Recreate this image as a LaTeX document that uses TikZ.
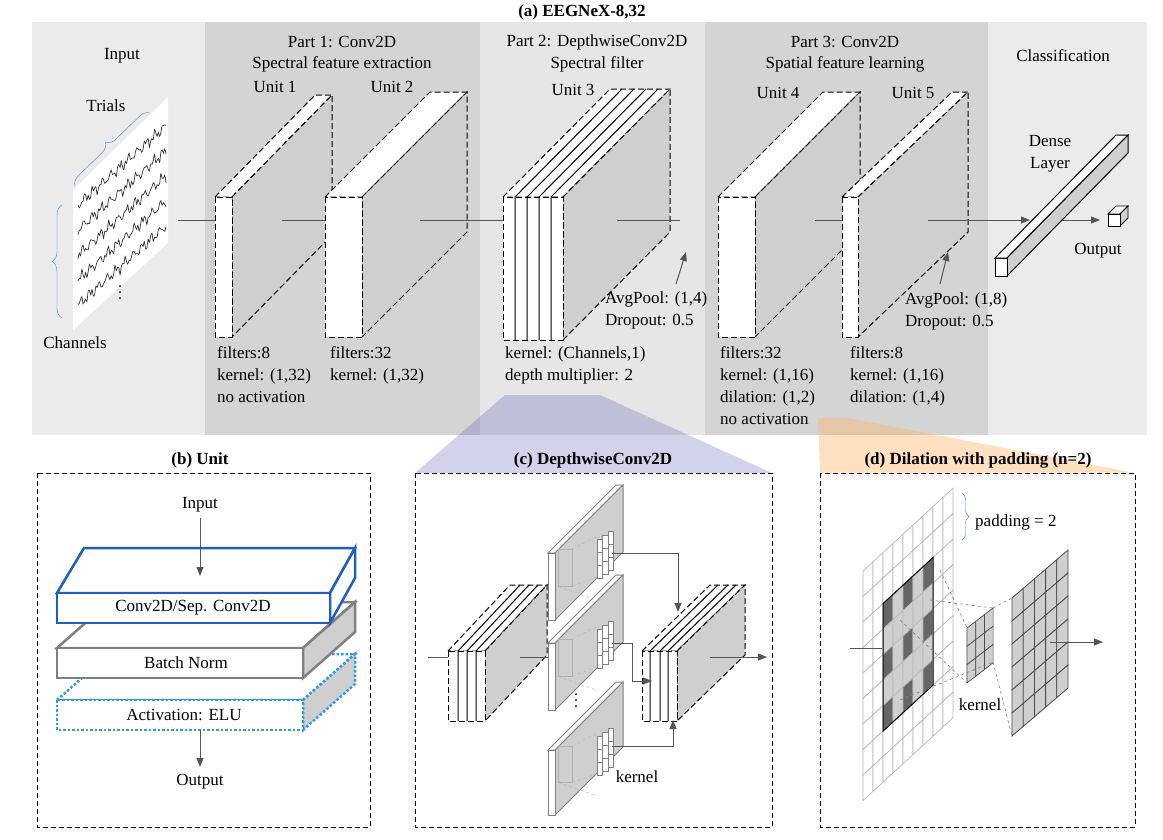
\documentclass[tikz,border=0pt]{standalone}
\usepackage{fontspec}
\setmainfont{Liberation Serif}
\usetikzlibrary{arrows.meta,decorations.pathreplacing}
\definecolor{pA}{HTML}{EBEBEB}
\definecolor{pB}{HTML}{D4D4D4}
\definecolor{pC}{HTML}{E6E6E6}
\definecolor{sideg}{HTML}{CFCFCF}
\definecolor{lnk}{HTML}{555555}
\definecolor{ublue}{HTML}{1F5FBF}
\definecolor{dblue}{HTML}{3399DD}
\newcommand{\cuboid}[7][]{%
 \filldraw[#1,fill=white] (#2,#3) -- ++(#6,-#7) -- ++(#4,0) -- ++(-#6,#7) -- cycle;
 \filldraw[#1,fill=sideg] ({#2+#4},#3) -- ++(#6,-#7) -- ++(0,#5) -- ++(-#6,#7) -- cycle;
 \filldraw[#1,fill=white] (#2,#3) rectangle ++(#4,#5);}
\newcommand{\slab}[6][]{% x y h dx dy
 \draw[#1] (#2,#3) -- ++(0,#4) (#2,#3) -- ++(#5,-#6);}
\newcommand{\vdts}[2]{\foreach \q in {0,1,2}{\fill (#1,{#2-6+6*\q}) circle (1pt);}}
\tikzset{
 txt/.style={font=\fontsize{17}{22}\selectfont,inner sep=0pt},
 lt/.style={txt,anchor=west},
 ttl/.style={txt,font=\fontsize{17}{22}\selectfont\bfseries},
 dsh/.style={dashed,dash pattern=on 6pt off 3pt,line width=1pt},
 cn/.style={lnk,line width=1pt},
 ar/.style={cn,-{Triangle[length=9pt,width=7pt]}},
 box/.style={dashed,dash pattern=on 5pt off 3pt,line width=1pt},
}
\begin{document}
\begin{tikzpicture}[x=1pt,y=-1pt]
\useasboundingbox[fill=white] (0,0) rectangle (1163,839);
% panels
\fill[pA] (32,22) rectangle (205,435);
\fill[pB] (205,22) rectangle (480,435);
\fill[pC] (480,22) rectangle (705,435);
\fill[pB] (705,22) rectangle (988,435);
\fill[pA] (988,22) rectangle (1147,435);
% fans
\fill[blue!40!gray,opacity=0.25] (505,395) -- (600,395) -- (772,473) -- (415,473) -- cycle;
\fill[orange!60,opacity=0.4] (818,418) -- (848,418) -- (1135,473) -- (820,473) -- cycle;
\node[ttl] (ta) at (582,12) {(a) EEGNeX-8,32};
\node[txt] (tin) at (122,56) {Input};
\node[txt] (p1a) at (342,42) {Part 1: Conv2D};
\node[txt] (p1b) at (342,64) {Spectral feature extraction};
\node[txt] (u1) at (275,87) {Unit 1};
\node[txt] (u2) at (392,87) {Unit 2};
\node[txt] (p2a) at (597,42) {Part 2: DepthwiseConv2D};
\node[txt] (p2b) at (597,64) {Spectral filter};
\node[txt] (u3) at (573,90) {Unit 3};
\node[txt] (p3a) at (845,42) {Part 3: Conv2D};
\node[txt] (p3b) at (845,64) {Spatial feature learning};
\node[txt] (u4) at (778,93) {Unit 4};
\node[txt] (u5) at (913,93) {Unit 5};
\node[txt] (cls) at (1063,56) {Classification};
\node[txt,align=center] (dl) at (1050,154) {Dense\\Layer};
\node[txt] (outp) at (1098,251) {Output};
\node[txt] (tri) at (106,106) {Trials};
\node[txt] (chn) at (75,343) {Channels};
% EEG
\fill[white] (73,190) -- (168,97) -- (168,243) -- (73,330) -- cycle;
\foreach \k/\p in {0/0,1/40,2/80,3/120,4/160}{
 \draw[black!80,line width=0.7pt] plot[domain=0:88,samples=70,smooth] ({78+\x},{205+\k*25-0.9*\x+3.5*sin(\x*41+\p)+2.5*sin(\x*97+2*\p)+1.5*sin(\x*173)});}
\vdts{120}{292}
\draw[ublue!80,decorate,decoration={brace,amplitude=10pt}] (75,186) -- (150,113);
\draw[ublue!80,decorate,decoration={brace,amplitude=10pt}] (62,318) -- (62,205);
% units
\cuboid[dsh]{215}{197}{17}{140}{100}{102}
\cuboid[dsh]{325}{197}{37}{140}{105}{105}
\cuboid[dsh]{503}{197}{60}{143}{107}{108}
\foreach \xx in {515,527,539,551}{\slab[line width=1pt]{\xx}{197}{143}{107}{108}}
\cuboid[dsh]{718}{197}{37}{140}{105}{105}
\cuboid[dsh]{842}{197}{16}{140}{110}{105}
\cuboid[line width=1pt]{995}{258}{12}{18}{121}{123}
\cuboid[line width=0.8pt]{1108}{214}{12}{12}{8}{8}
% connectors
\coordinate (c0) at (178,220); \coordinate (c1) at (215,220);
\coordinate (c2) at (282,220); \coordinate (c3) at (325,220);
\coordinate (c4) at (420,220); \coordinate (c5) at (503,220);
\coordinate (c6) at (617,220); \coordinate (c7) at (680,220);
\coordinate (c8) at (815,220); \coordinate (c9) at (842,220);
\coordinate (c10) at (928,220); \coordinate (c11) at (1030,220);
\coordinate (c12) at (1062,220); \coordinate (c13) at (1100,220);
\draw[cn] (c0) -- (c1); \draw[cn] (c2) -- (c3); \draw[cn] (c4) -- (c5);
\draw[cn] (c6) -- (c7); \draw[cn] (c8) -- (c9);
\draw[ar] (c10) -- (c11); \draw[ar] (c12) -- (c13);
\coordinate (a1) at (676,284); \coordinate (a2) at (686,252);
\coordinate (a3) at (940,284); \coordinate (a4) at (948,252);
\draw[ar] (a1) -- (a2); \draw[ar] (a3) -- (a4);
% labels
\node[lt,align=left,anchor=north west] (l1) at (217,346) {filters:8\\kernel: (1,32)\\no activation};
\node[lt,align=left,anchor=north west] (l2) at (330,346) {filters:32\\kernel: (1,32)};
\node[lt,align=left,anchor=north west] (l3) at (505,346) {kernel: (Channels,1)\\depth multiplier: 2};
\node[lt,align=left,anchor=north west] (l4) at (605,291) {AvgPool: (1,4)\\Dropout: 0.5};
\node[lt,align=left,anchor=north west] (l5) at (720,346) {filters:32\\kernel: (1,16)\\dilation: (1,2)\\no activation};
\node[lt,align=left,anchor=north west] (l6) at (850,346) {filters:8\\kernel: (1,16)\\dilation: (1,4)};
\node[lt,align=left,anchor=north west] (l7) at (905,292) {AvgPool: (1,8)\\Dropout: 0.5};
% (b)
\draw[box] (37,473) rectangle (370,827);
\node[ttl] (tb) at (200,460) {(b) Unit};
\node[txt] (bin) at (200,505) {Input};
\node[txt] (bout) at (200,782) {Output};
\cuboid[dblue,line width=2.5pt,dotted]{57}{700}{246}{30}{52}{46}
\cuboid[gray,line width=2.5pt]{57}{648}{246}{30}{52}{46}
\filldraw[ublue,line width=2.5pt,fill=white] (57,593) -- ++(27,-45) -- ++(271,0) -- ++(-25,45) -- cycle;
\filldraw[ublue,line width=2.5pt,fill=white] (330,593) -- (355,548) -- (355,578) -- (330,623) -- cycle;
\filldraw[ublue,line width=2.5pt,fill=white] (57,593) rectangle (330,623);
\node[txt] (bc) at (193,608) {Conv2D/Sep. Conv2D};
\node[txt] (bb) at (186,663) {Batch Norm};
\node[txt] (ba) at (184,715) {Activation: ELU};
\coordinate (b1) at (200,518); \coordinate (b2) at (200,576);
\coordinate (b3) at (200,730); \coordinate (b4) at (200,767);
\draw[ar] (b1) -- (b2); \draw[ar] (b3) -- (b4);
% (c)
\draw[box] (415,473) rectangle (772,827);
\node[ttl] (tc) at (593,460) {(c) DepthwiseConv2D};
\cuboid[dsh]{448}{651}{37}{70}{62}{66}
\foreach \xx in {458,467,476}{\slab[line width=1pt]{\xx}{651}{70}{62}{66}}
\cuboid[dsh]{642}{651}{35}{70}{68}{66}
\foreach \xx in {650,660,668}{\slab[line width=1pt]{\xx}{651}{70}{68}{66}}
\foreach \yy/\hh in {553/67,643/67,750/65}{
 \cuboid[gray,line width=1pt]{548}{\yy}{7}{\hh}{68}{68}
 \draw[gray!60,line width=0.5pt] (558,{\yy-4}) rectangle (572,{\yy+\hh*0.5});
 \draw[gray!60,dashed,line width=0.4pt] (572,{\yy-4}) -- (596,{\yy-16}) (572,{\yy+\hh*0.5}) -- (596,{\yy+24}) (558,{\yy+\hh*0.5}) -- (596,{\yy+\hh*0.7});
 \foreach \i in {0,1,2}{\foreach \j in {0,1,2}{
  \filldraw[gray,fill=white,line width=0.5pt] ({597+\i*5.5},{\yy-14+\j*13-\i*4}) rectangle ++(5.5,13);}}
}
\vdts{576}{700}
\coordinate (k1) at (612,553); \coordinate (k1b) at (678,553); \coordinate (k1c) at (678,612);
\coordinate (k2) at (612,643); \coordinate (k2b) at (632,643); \coordinate (k2c) at (632,681); \coordinate (k2d) at (652,681);
\coordinate (k3) at (612,746); \coordinate (k3b) at (673,746); \coordinate (k3c) at (673,720);
\draw[ar] (k1) -- (k1b) -- (k1c);
\draw[ar] (k2) -- (k2b) -- (k2c) -- (k2d);
\draw[ar] (k3) -- (k3b) -- (k3c);
\coordinate (ci0) at (428,657); \coordinate (ci1) at (448,657);
\coordinate (ci2) at (520,657); \coordinate (ci3) at (548,657);
\coordinate (co0) at (710,657); \coordinate (co1) at (767,657);
\draw[cn] (ci0) -- (ci1); \draw[cn] (ci2) -- (ci3); \draw[ar] (co0) -- (co1);
\node[txt] (kc) at (637,777) {kernel};
% (d)
\draw[box] (820,473) rectangle (1135,827);
\node[ttl] (td) at (978,460) {(d) Dilation with padding (n=2)};
\foreach \i in {0,...,8}{\foreach \j in {0,...,8}{
 \pgfmathtruncatemacro{\inr}{(\i>1)&&(\i<7)&&(\j>1)&&(\j<7)}
 \pgfmathtruncatemacro{\drk}{\inr && (mod(\i,2)==0) && (mod(\j,2)==0)}
 \ifnum\drk=1 \def\fc{gray!80!black}\else\ifnum\inr=1 \def\fc{sideg}\else\def\fc{white}\fi\fi
 \filldraw[gray!55,fill=\fc,line width=0.7pt] ({863+10*\i},{571-9.2*\i+25.5*\j}) -- ++(10,-9.2) -- ++(0,25.5) -- ++(-10,9.2) -- cycle;
}}
\draw[black,line width=1pt] (883,{571-18.4+51}) -- (933,{571-64.4+51}) -- (933,{571-64.4+178.5}) -- (883,{571-18.4+178.5}) -- cycle;
\foreach \i in {0,1,2}{\foreach \j in {0,1,2}{
 \filldraw[black!70,fill=sideg,line width=0.7pt] ({967+8.7*\i},{628-6.7*\i+18.3*\j}) -- ++(8.7,-6.7) -- ++(0,18.3) -- ++(-8.7,6.7) -- cycle;}}
\foreach \i in {0,...,4}{\foreach \j in {0,...,5}{
 \filldraw[black!70,fill=sideg,line width=0.8pt] ({1012+11.2*\i},{598-9.6*\i+23*\j}) -- ++(11.2,-9.6) -- ++(0,23) -- ++(-11.2,9.6) -- cycle;}}
\draw[gray,dashed,line width=0.6pt] (940,570) -- (967,628) (900,620) -- (967,683) (993,608) -- (1012,598) (993,662) -- (1012,736) (930,600) -- (993,608) (900,700) -- (993,662);
\coordinate (di0) at (850,648); \coordinate (di1) at (882,648);
\coordinate (do0) at (1050,642); \coordinate (do1) at (1103,642);
\draw[cn] (di0) -- (di1); \draw[ar] (do0) -- (do1);
\draw[ublue!80,decorate,decoration={brace,amplitude=7pt}] (962,493) -- (962,540);
\node[lt] (pad) at (975,522) {padding = 2};
\node[txt] (kd) at (980,705) {kernel};
\end{tikzpicture}
\end{document}
